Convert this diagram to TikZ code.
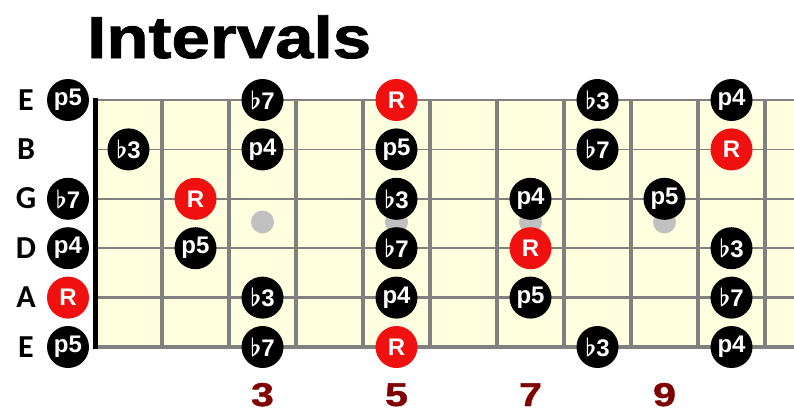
\documentclass[tikz,border=0pt]{standalone}
\usepackage{fontspec}
\setmainfont{Liberation Sans}
\newfontfamily\labelfont{Carlito}
\newfontfamily\titlefont[FakeStretch=1.17, FakeBold=1.5]{Liberation Sans}
\newfontfamily\numfont[FakeStretch=1.25, FakeBold=1.2]{Liberation Sans}
\definecolor{board}{RGB}{255,255,224}
\definecolor{fretgray}{RGB}{128,128,128}
\definecolor{inlay}{RGB}{192,192,192}
\definecolor{rootred}{RGB}{240,16,16}
\definecolor{fretnum}{RGB}{128,0,0}
\newcommand{\fl}{{\fontsize{27}{27}\selectfont\boldmath$\flat$}}
\begin{document}
\begin{tikzpicture}[x=1pt, y=-1pt,
    note/.style={circle, fill=black, text=white, minimum size=42pt, inner sep=0pt,
        font=\fontsize{24}{24}\selectfont\bfseries},
    root/.style={note, fill=rootred}]
\useasboundingbox (0,0) rectangle (794,418);

% title
\node[anchor=base west, inner sep=0pt, font=\titlefont\fontsize{59}{59}\selectfont\bfseries] (title) at (87,58) {Intervals};

% fretboard
\fill[board] (95,100) rectangle (794,347);
\foreach \f in {1,...,10}
{
    \draw[fretgray, line width=4pt] ({95+67*\f},100)--({95+67*\f},347);
}
\foreach \s/\w in {1/1.2, 2/1.2, 3/1.4, 4/1.8, 5/3, 6/4}
{
    \draw[gray, line width=\w pt] (95,{100+49.4*(\s-1)})--(794,{100+49.4*(\s-1)});
}
\foreach \f in {3,5,7,9}
{
    \fill[inlay] ({95+67*(\f-0.5)},222) circle (11.5pt);
    \node[anchor=base, text=fretnum, font=\numfont\fontsize{33}{33}\selectfont\bfseries] (fn\f) at ({95+67*(\f-0.5)},406) {\f};
}
\draw[black, line width=5pt] (95,98)--(95,349);

% string names
\foreach \s/\n in {1/E, 2/B, 3/G, 4/D, 5/A, 6/E}
{
    \node[anchor=base, inner sep=0pt, font=\labelfont\fontsize{32}{32}\selectfont\bfseries] (str\s) at (26,{110+49.4*(\s-1)}) {\n};
}

% open strings
\foreach \s/\t in {1/p5, 3/\fl7, 4/p4, 6/p5}
{
    \node[note] (n\s-0) at (68,{100+49.4*(\s-1)}) {\t};
}
\node[root] (n5-0) at (68,{100+49.4*4}) {R};

% fretted notes
\foreach \s/\f/\t in {1/3/\fl7, 1/8/\fl3, 1/10/p4,
    2/1/\fl3, 2/3/p4, 2/5/p5, 2/8/\fl7,
    3/5/\fl3, 3/7/p4, 3/9/p5,
    4/2/p5, 4/5/\fl7, 4/10/\fl3,
    5/3/\fl3, 5/5/p4, 5/7/p5, 5/10/\fl7,
    6/3/\fl7, 6/8/\fl3, 6/10/p4}
{
    \node[note] (n\s-\f) at ({95+67*(\f-0.5)},{100+49.4*(\s-1)}) {\t};
}
\foreach \s/\f in {1/5, 2/10, 3/2, 4/7, 6/5}
{
    \node[root] (n\s-\f) at ({95+67*(\f-0.5)},{100+49.4*(\s-1)}) {R};
}
\end{tikzpicture}
\end{document}
